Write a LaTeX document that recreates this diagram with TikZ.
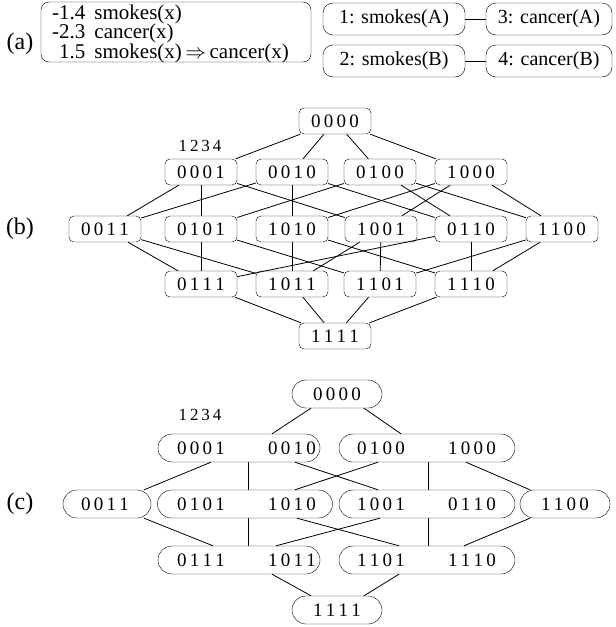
\documentclass[tikz,border=0pt]{standalone}
\usepackage{fontspec}
\setmainfont{Liberation Serif}
\usepackage{amssymb}
\newcommand{\dg}[4]{#1\hspace{0.17em}#2\hspace{0.17em}#3\hspace{0.17em}#4}
\begin{document}
\begin{tikzpicture}[x=1pt,y=-1pt,
  bn/.style={draw,rounded corners=5pt,minimum width=72pt,minimum height=26pt,inner sep=0pt,font=\fontsize{19}{19}\selectfont},
  pill/.style={draw,rounded corners=14pt,minimum height=28pt,inner sep=0pt},
  tx/.style={inner sep=0pt,font=\fontsize{19}{19}\selectfont},
  an/.style={draw,rounded corners=10pt,minimum height=32pt,inner sep=0pt,font=\fontsize{20}{20}\selectfont},
  lab/.style={inner sep=0pt,font=\fontsize{24}{24}\selectfont},
  e/.style={line width=0.8pt}]
\useasboundingbox (0,0) rectangle (616,627);
% (a)
\node[lab] (la) at (20,44) {(a)};
\node[draw,rounded corners=8pt,minimum width=270pt,minimum height=60pt,inner sep=0pt] (mln) at (176,32) {};
\node[inner sep=0pt,anchor=west,font=\fontsize{21}{17}\selectfont] (mlt) at (52,34) {\begin{tabular}{@{}r@{\hspace{9pt}}l@{}}-1.4&smokes(x)\\-2.3&cancer(x)\\1.5&smokes(x)\,$\Rightarrow$\,cancer(x)\end{tabular}};
\node[an,minimum width=142pt] (sA) at (394,19) {1: smokes(A)};
\node[an,minimum width=126pt] (cA) at (549,19) {3: cancer(A)};
\node[an,minimum width=142pt] (sB) at (394,61) {2: smokes(B)};
\node[an,minimum width=126pt] (cB) at (549,61) {4: cancer(B)};
\draw[e] (sA) -- (cA);
\draw[e] (sB) -- (cB);
% (b)
\node[lab] (lb) at (20,229) {(b)};
\node[tx,font=\fontsize{17}{17}\selectfont] (b1234) at (200,146) {\dg1234};
\node[bn] (b0000) at (335,121) {\dg0000};
\node[bn] (b0001) at (201,172) {\dg0001};
\node[bn] (b0010) at (292,172) {\dg0010};
\node[bn] (b0100) at (380,172) {\dg0100};
\node[bn] (b1000) at (471,172) {\dg1000};
\node[bn] (b0011) at (105,229) {\dg0011};
\node[bn] (b0101) at (201,229) {\dg0101};
\node[bn] (b1010) at (292,229) {\dg1010};
\node[bn] (b1001) at (381,229) {\dg1001};
\node[bn] (b0110) at (471,229) {\dg0110};
\node[bn] (b1100) at (562,229) {\dg1100};
\node[bn] (b0111) at (201,284) {\dg0111};
\node[bn] (b1011) at (292,284) {\dg1011};
\node[bn] (b1101) at (380,284) {\dg1101};
\node[bn] (b1110) at (471,284) {\dg1110};
\node[bn] (b1111) at (335,336) {\dg1111};
\foreach \a/\b in {0000/0001,0000/0010,0000/0100,0000/1000,
  0001/0011,0001/0101,0001/1001,0010/0011,0010/1010,0010/0110,
  0100/0101,0100/0110,0100/1100,1000/1010,1000/1001,1000/1100,
  0011/0111,0011/1011,0101/0111,0101/1101,1010/1011,1010/1110,
  1001/1011,1001/1101,0110/0111,0110/1110,1100/1101,1100/1110,
  0111/1111,1011/1111,1101/1111,1110/1111}
  \draw[e] (b\a) -- (b\b);
% (c)
\node[lab] (lc) at (20,504) {(c)};
\node[tx,font=\fontsize{17}{17}\selectfont] (c1234) at (200,415) {\dg1234};
\node[pill,minimum width=90pt] (c0) at (337,394) {};
\node[tx] at (c0) {\dg0000};
\node[pill,minimum width=162pt] (c1L) at (239,448) {};
\node[pill,minimum width=176pt] (c1R) at (427,448) {};
\node[pill,minimum width=88pt] (c2a) at (107,504) {};
\node[pill,minimum width=175pt] (c2b) at (245,504) {};
\node[pill,minimum width=176pt] (c2c) at (427,504) {};
\node[pill,minimum width=90pt] (c2d) at (565,504) {};
\node[pill,minimum width=162pt] (c3L) at (239,560) {};
\node[pill,minimum width=176pt] (c3R) at (427,560) {};
\node[pill,minimum width=90pt] (c4) at (337,610) {};
\node[tx] at (201,448) {\dg0001};
\node[tx] at (292,448) {\dg0010};
\node[tx] at (381,448) {\dg0100};
\node[tx] at (472,448) {\dg1000};
\node[tx] at (105,504) {\dg0011};
\node[tx] at (201,504) {\dg0101};
\node[tx] at (292,504) {\dg1010};
\node[tx] at (381,504) {\dg1001};
\node[tx] at (472,504) {\dg0110};
\node[tx] at (565,504) {\dg1100};
\node[tx] at (201,560) {\dg0111};
\node[tx] at (292,560) {\dg1011};
\node[tx] at (381,560) {\dg1101};
\node[tx] at (472,560) {\dg1110};
\node[tx] at (c4) {\dg1111};
\draw[e] ([xshift=-26pt]c0.south) -- ([xshift=33pt]c1L.north);
\draw[e] ([xshift=27pt]c0.south) -- ([xshift=-26pt]c1R.north);
\draw[e] ([xshift=-28pt]c1L.south) -- ([xshift=37pt]c2a.north);
\draw[e] ([xshift=9pt]c1L.south) -- ([xshift=3pt]c2b.north);
\draw[e] ([xshift=56pt]c1L.south) -- ([xshift=-49pt]c2c.north);
\draw[e] ([xshift=-49pt]c1R.south) -- ([xshift=50pt]c2b.north);
\draw[e] ([xshift=1pt]c1R.south) -- ([xshift=1pt]c2c.north);
\draw[e] ([xshift=39pt]c1R.south) -- ([xshift=-35pt]c2d.north);
\draw[e] ([xshift=37pt]c2a.south) -- ([xshift=-26pt]c3L.north);
\draw[e] ([xshift=3pt]c2b.south) -- ([xshift=9pt]c3L.north);
\draw[e] ([xshift=52pt]c2b.south) -- ([xshift=-28pt]c3R.north);
\draw[e] ([xshift=-47pt]c2c.south) -- ([xshift=37pt]c3L.north);
\draw[e] ([xshift=1pt]c2c.south) -- ([xshift=1pt]c3R.north);
\draw[e] ([xshift=-35pt]c2d.south) -- ([xshift=37pt]c3R.north);
\draw[e] ([xshift=33pt]c3L.south) -- ([xshift=-26pt]c4.north);
\draw[e] ([xshift=-28pt]c3R.south) -- ([xshift=27pt]c4.north);
\end{tikzpicture}
\end{document}
